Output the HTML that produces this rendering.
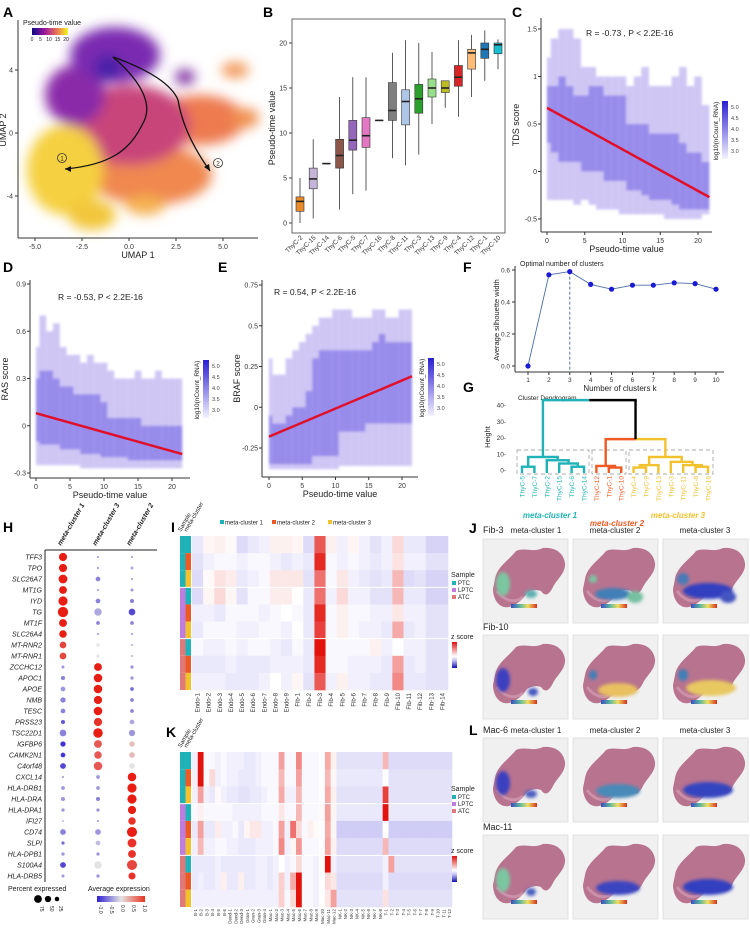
<!DOCTYPE html>
<html><head><meta charset="utf-8"><style>
html,body{margin:0;padding:0;background:#fff}
svg{display:block;font-family:"Liberation Sans",Arial,sans-serif}
</style></head><body>
<svg id="fig" width="750" height="929" viewBox="0 0 750 929" xmlns="http://www.w3.org/2000/svg">
<defs>
<filter id="blur6" x="-50%" y="-50%" width="200%" height="200%"><feGaussianBlur stdDeviation="6"/></filter>
<filter id="blur2" x="-50%" y="-50%" width="200%" height="200%"><feGaussianBlur stdDeviation="1.5"/></filter>
<filter id="blur1" x="-10%" y="-10%" width="120%" height="120%"><feGaussianBlur stdDeviation="1.2"/></filter>
<linearGradient id="plasma" x1="0" x2="1"><stop offset="0" stop-color="#0d0887"/><stop offset="0.35" stop-color="#9c179e"/><stop offset="0.7" stop-color="#ed7953"/><stop offset="1" stop-color="#f0f921"/></linearGradient>
<linearGradient id="bluebar" x1="0" x2="0" y1="1" y2="0"><stop offset="0" stop-color="#f4f2ff"/><stop offset="1" stop-color="#2a1fd0"/></linearGradient>
<linearGradient id="zbar" x1="0" x2="0" y1="1" y2="0"><stop offset="0" stop-color="#1010b0"/><stop offset="0.3" stop-color="#c8c4f4"/><stop offset="0.45" stop-color="#ffffff"/><stop offset="1" stop-color="#e01010"/></linearGradient>
<linearGradient id="avgbar" x1="0" x2="1"><stop offset="0" stop-color="#3020d0"/><stop offset="0.5" stop-color="#e4e4e4"/><stop offset="1" stop-color="#e8321e"/></linearGradient>
<linearGradient id="jet" x1="0" x2="1"><stop offset="0" stop-color="#3a4cc0"/><stop offset="0.35" stop-color="#5fb8a0"/><stop offset="0.65" stop-color="#f0e060"/><stop offset="1" stop-color="#d83020"/></linearGradient>
</defs>
</svg>
<script>
// ---------- DATA ----------
const boxCats=["ThyC-2","ThyC-15","ThyC-14","ThyC-6","ThyC-5","ThyC-7","ThyC-16","ThyC-8","ThyC-11","ThyC-3","ThyC-13","ThyC-9","ThyC-4","ThyC-12","ThyC-1","ThyC-10"];
const boxMin=[0,0.5,6.6,1.5,3.2,3.6,11.4,7.2,6.4,7.6,11,12.8,11.8,14,15.8,17.1];
const boxQ1=[1.3,3.8,6.6,6.1,8.1,8.4,11.4,11.4,10.9,12.2,14,14.5,15.2,17.1,18.3,18.8];
const boxMed=[2.4,4.9,6.6,7.5,9.2,9.7,11.4,12.5,13.5,13.8,15,15,16.2,18.9,19.3,19.8];
const boxQ3=[2.9,6.1,6.6,9.3,11.4,11.7,11.4,15.6,14.8,15.4,16,15.8,17.5,19.3,20,20];
const boxMax=[5,9.3,6.6,14,16.2,16.2,11.4,18.9,20.3,20,19,15.8,20.3,20.9,21.4,20.4];
const boxColors=["#e8892a","#c5b3d8","#555555","#8c564b","#9467bd","#e377c2","#555555","#7f7f7f","#aec7e8","#2ca02c","#98df8a","#bcbd22","#d62728","#ffbb78","#1f77b4","#17becf"];

const cHi=[1.2,1.4,1.5,1.5,1.4,1.1,1.1,1.0,1.0,1.0,1.0,0.9,1.0,1.1,0.9,0.9,0.9,1.0,1.1,0.9,1.0,0.7];
const cLo=[-0.3,-0.3,-0.3,-0.3,-0.35,-0.3,-0.35,-0.4,-0.4,-0.4,-0.45,-0.45,-0.45,-0.45,-0.45,-0.45,-0.5,-0.5,-0.5,-0.5,-0.5,-0.45];
const cCoreHi=[0.9,0.9,1.0,0.9,0.8,0.8,0.9,0.9,0.8,0.8,0.8,0.5,0.5,0.5,0.4,0.4,0.4,0.4,0.3,0.2,0.2,0.1];
const cCoreLo=[0.3,0.2,0.1,0.1,0.1,0.0,0.0,0.0,-0.1,-0.1,-0.1,-0.2,-0.2,-0.25,-0.3,-0.3,-0.3,-0.35,-0.4,-0.4,-0.4,-0.4];
const cFit=[0.67,-0.27];

const dHi=[0.5,0.7,0.6,0.65,0.5,0.45,0.45,0.4,0.45,0.4,0.4,0.35,0.3,0.3,0.3,0.35,0.3,0.3,0.35,0.3,0.3,0.3];
const dLo=[-0.25,-0.25,-0.25,-0.25,-0.25,-0.25,-0.25,-0.27,-0.27,-0.27,-0.27,-0.27,-0.27,-0.27,-0.27,-0.27,-0.27,-0.27,-0.27,-0.27,-0.27,-0.27];
const dCoreHi=[0.3,0.35,0.35,0.3,0.25,0.25,0.2,0.2,0.2,0.2,0.15,0.05,0.05,0.05,0.05,0.05,0.0,0.0,0.0,0.0,0.0,0.0];
const dCoreLo=[-0.1,-0.12,-0.12,-0.12,-0.15,-0.15,-0.15,-0.18,-0.18,-0.18,-0.2,-0.2,-0.2,-0.2,-0.22,-0.22,-0.22,-0.22,-0.22,-0.22,-0.22,-0.22];
const dFit=[0.08,-0.18];

const eHi=[0.3,0.2,0.2,0.3,0.35,0.4,0.45,0.5,0.55,0.55,0.6,0.6,0.6,0.55,0.55,0.55,0.6,0.6,0.55,0.55,0.6,0.6];
const eLo=[-0.38,-0.38,-0.38,-0.38,-0.38,-0.38,-0.38,-0.38,-0.38,-0.38,-0.38,-0.36,-0.36,-0.36,-0.36,-0.36,-0.36,-0.36,-0.36,-0.36,-0.36,-0.36];
const eCoreHi=[-0.05,-0.1,-0.1,-0.05,0,0,0.1,0.3,0.35,0.35,0.35,0.35,0.35,0.35,0.35,0.35,0.4,0.45,0.4,0.4,0.4,0.4];
const eCoreLo=[-0.35,-0.35,-0.35,-0.35,-0.35,-0.35,-0.35,-0.3,-0.3,-0.3,-0.3,-0.15,-0.15,-0.15,-0.15,-0.1,-0.1,-0.1,-0.1,-0.1,-0.1,-0.1];
const eFit=[-0.18,0.19];

const silK=[1,2,3,4,5,6,7,8,9,10];
const silVal=[0,0.57,0.59,0.51,0.48,0.505,0.505,0.52,0.515,0.48];

const leafNames=["ThyC-5","ThyC-7","ThyC-2","ThyC-15","ThyC-6","ThyC-14","ThyC-12","ThyC-1","ThyC-10","ThyC-4","ThyC-9","ThyC-13","ThyC-3","ThyC-11","ThyC-8","ThyC-16"];
const leafColors=["#1fb3b8","#1fb3b8","#1fb3b8","#1fb3b8","#1fb3b8","#1fb3b8","#ee5a24","#ee5a24","#ee5a24","#f2c12e","#f2c12e","#f2c12e","#f2c12e","#f2c12e","#f2c12e","#f2c12e"];
const mergeLeft=[0,4,3,2,16,7,6,9,23,14,13,12,24,22,20];
const mergeRight=[1,5,17,18,19,8,21,10,11,15,25,26,27,28,29];
const mergeHeight=[2,2,4,6,8,1.5,2.5,1.5,3,2,3,5,8,19,43];
const mergeColor=["#1fb3b8","#1fb3b8","#1fb3b8","#1fb3b8","#1fb3b8","#ee5a24","#ee5a24","#f2c12e","#f2c12e","#f2c12e","#f2c12e","#f2c12e","#f2c12e","#000000","#000000"];

const genes=["TFF3","TPO","SLC26A7","MT1G","IYD","TG","MT1F","SLC26A4","MT-RNR2","MT-RNR1","ZCCHC12","APOC1","APOE","NMB","TESC","PRSS23","TSC22D1","IGFBP6","CAMK2N1","C4orf48","CXCL14","HLA-DRB1","HLA-DRA","HLA-DPA1","IFI27","CD74","SLPI","HLA-DPB1","S100A4","HLA-DRB5"];
const dotGroups=["meta-cluster 1","meta-cluster 3","meta-cluster 2"];
const pctMC1=[60,60,70,55,75,95,55,50,40,40,8,15,20,25,20,15,40,25,20,30,5,12,15,10,3,30,10,10,30,8];
const pctMC3=[5,5,20,5,20,50,12,5,10,10,55,65,65,60,65,60,80,55,50,65,12,12,15,10,5,30,20,10,50,10];
const pctMC2=[5,8,5,8,15,40,12,5,5,5,10,10,12,12,12,20,35,25,30,30,65,75,75,60,50,90,70,55,90,45];
const avgMC1=[1,1,1,1,1,1,1,1,0.8,0.8,-0.4,-0.5,-0.4,-0.5,-0.5,-0.7,-0.5,-0.9,-0.9,-0.8,-0.3,-0.4,-0.4,-0.4,-0.3,-0.5,-0.6,-0.4,-0.8,-0.4];
const avgMC3=[-0.3,-0.3,-0.5,-0.3,-0.5,-0.3,-0.5,-0.3,0,0,1,1,1,1,1,0.9,1,0.7,0.7,0.7,-0.4,-0.4,-0.5,-0.4,-0.3,-0.4,-0.2,-0.4,0,-0.4];
const avgMC2=[-0.3,-0.3,-0.3,-0.4,-0.5,-0.8,-0.5,-0.3,-0.2,-0.2,-0.4,-0.4,-0.6,-0.5,-0.5,-0.3,-0.4,0.2,0.2,0,1,1,1,1,0.9,1,0.9,0.9,0.8,0.9];

const iCols=["Endo-1","Endo-2","Endo-3","Endo-4","Endo-5","Endo-6","Endo-7","Endo-8","Endo-9","Fib-1","Fib-2","Fib-3","Fib-4","Fib-5","Fib-6","Fib-7","Fib-8","Fib-9","Fib-10","Fib-11","Fib-12","Fib-13","Fib-14"];
const iRow0=[-.3,.2,.3,.1,-.5,-.3,-.2,.3,.3,.2,-.5,3.5,.3,-.2,.2,-.2,-.4,-.2,.8,-.3,-.3,-.6,-.6];
const iRow1=[-.4,-.2,-.1,-.1,-.2,-.1,-.1,-.2,-.3,-.2,-.3,4.5,-.1,-.2,-.1,-.2,-.3,-.2,.6,-.2,-.2,-.4,-.4];
const iRow2=[-.5,.1,.6,.4,-.3,-.2,-.1,.5,.5,.5,-.4,3,-.1,.5,-.2,-.3,-.4,-.3,1.5,-.5,-.4,-.6,-.6];
const iRow3=[-.5,.2,.8,.2,-.4,-.1,-.1,.4,.4,0,-.3,3,-.2,.8,-.2,-.2,-.4,-.4,1.5,-.3,-.3,-.6,-.6];
const iRow4=[-.2,-.2,-.3,-.1,-.1,-.1,-.2,-.1,0,-.1,-.3,4.5,-.1,.3,-.1,-.1,-.2,-.2,.5,-.2,-.2,-.4,-.4];
const iRow5=[-.3,-.1,-.1,-.1,-.2,-.2,-.1,-.1,-.2,0,-.3,4,-.1,.3,-.1,-.2,-.2,-.3,1.8,-.3,-.2,-.4,-.4];
const iRow6=[-.1,-.2,-.2,-.1,-.2,-.1,-.1,-.2,-.3,-.1,-.3,5,-.1,-.1,-.1,-.1,.3,-.2,0,-.2,-.2,-.4,-.4];
const iRow7=[-.3,-.3,-.3,-.2,-.3,-.3,-.3,-.2,-.2,-.2,-.3,4.5,-.1,-.1,-.2,-.2,-.2,-.3,2,-.3,-.2,-.4,-.4];
const iRow8=[-.2,-.2,-.2,-.3,-.3,-.3,-.2,0,-.2,.2,-.4,3.5,-.2,.3,-.2,-.2,-.3,-.3,2.5,-.3,-.3,-.4,-.4];

const kCols=["B-1","B-2","B-3","B-4","B-5","B-6","Dend-1","Dend-2","Dend-3","Gran-1","Gran-2","Gran-3","Gran-4","Mac-1","Mac-2","Mac-3","Mac-4","Mac-5","Mac-6","Mac-7","Mac-8","Mac-9","Mac-10","Mac-11","Mac-12","NK-1","NK-2","NK-3","NK-4","NK-5","NK-6","NK-7","NK-8","T-1","T-2","T-3","T-4","T-5","T-6","T-7","T-8","T-9","T-10","T-11","T-12"];
const kRow0=[-.2,5,-.1,-.1,-.2,-.1,-.2,-.2,-.2,-.3,-.3,-.2,-.1,-.1,-.1,2,-.1,-.1,2.5,-.1,-.1,-.1,0,1.8,.3,-.4,-.4,-.4,-.4,-.4,-.4,-.4,-.4,1.5,-.5,-.5,-.5,-.5,-.5,-.5,-.5,-.5,-.5,-.5,-.5];
const kRow1=[-.2,5,-.1,.8,-.2,-.1,-.2,-.2,-.3,-.3,-.3,-.2,-.1,-.1,-.1,1.5,-.1,-.1,2,-.1,-.1,-.1,0,1.5,.2,-.3,-.3,-.3,-.3,-.3,-.3,-.3,-.3,0,-.4,-.4,-.4,-.4,-.4,-.4,-.4,-.4,-.4,-.4,-.4];
const kRow2=[-.2,2,-.2,-.3,.1,-.2,-.3,-.3,-.4,-.4,-.3,-.3,-.2,-.1,-.1,1.8,-.2,-.2,1.5,-.1,-.1,-.1,0,1.8,.3,-.4,-.4,-.4,-.4,-.4,-.4,-.4,-.4,4,-.4,-.4,-.4,-.4,-.4,-.4,-.4,-.4,-.4,-.4,-.4];
const kRow3=[-.1,.3,-.1,-.1,-.1,-.1,-.1,-.2,-.2,-.2,-.2,-.2,-.1,-.1,-.1,.5,-.1,-.1,1.5,-.1,-.1,-.1,.1,2,.2,-.3,-.3,-.3,-.3,-.3,-.3,-.3,-.3,6,-.3,-.3,-.3,-.3,-.3,-.3,-.3,-.3,-.3,-.3,-.3];
const kRow4=[-.3,2,-.3,-.3,.4,-.2,-.2,-.1,-.3,.2,.5,.5,-.2,-.2,-.1,2,-.2,3,.8,-.1,.3,.1,0,1.8,.2,-.7,-.7,-.7,-.7,-.7,-.7,-.7,-.7,0,-.7,-.7,-.7,-.7,-.7,-.7,-.7,-.7,-.7,-.7,-.7];
const kRow5=[-.2,1.5,-.2,-.2,-.1,-.1,-.2,-.2,-.3,-.3,-.3,-.2,-.2,-.2,-.1,2.5,-.2,.2,2.2,-.1,-.1,-.1,0,2,.3,-.5,-.5,-.5,-.5,-.5,-.5,-.5,-.5,1.5,-.5,-.5,-.5,-.5,-.5,-.5,-.5,-.5,-.5,-.5,-.5];
const kRow6=[-.3,-.3,-.3,-.3,-.2,-.3,-.3,-.3,-.3,-.3,-.3,-.2,-.2,-.3,-.2,0,-.2,-.1,.8,-.1,-.1,-.2,0,6,-.2,-.4,-.4,-.4,-.4,-.4,-.4,-.4,-.4,-.2,2,-.4,-.4,-.4,-.4,-.4,-.4,-.4,-.4,-.4,-.4];
const kRow7=[-.3,-.2,-.3,-.3,-.2,.3,-.3,-.3,.3,-.3,-.3,-.2,-.2,-.3,-.2,1,-.2,1.8,6,-.1,-.1,-.2,0,.8,.5,-.5,-.5,-.5,-.5,-.5,-.5,-.5,-.5,-.2,-.5,-.5,-.5,-.5,-.5,-.5,-.5,-.5,-.5,-.5,-.5];
const kRow8=[-.2,-.2,-.2,-.2,-.2,-.2,-.2,-.2,-.2,-.2,-.2,-.2,-.2,-.2,-.2,1,-.1,.8,5,-.1,-.1,-.2,0,.5,2,-.4,-.4,-.4,-.4,-.4,-.4,-.4,-.4,.6,-.4,-.4,-.4,-.4,-.4,-.4,-.4,-.4,-.4,-.4,-.4];

// ---------- HELPERS ----------
const NS="http://www.w3.org/2000/svg";
const svg=document.getElementById('fig');
function mk(tag,attrs,parent){const e=document.createElementNS(NS,tag);for(const k in attrs)e.setAttribute(k,attrs[k]);(parent||svg).appendChild(e);return e;}
function txt(x,y,s,size,opts,parent){const o=Object.assign({x:x,y:y,'font-size':size,fill:'#222'},opts||{});const t=mk('text',o,parent);t.textContent=s;return t;}
function grp(name){const g=mk('g',{});return g;}
function lin(s,d0,d1,r0,r1){return v=>r0+(v-d0)/(d1-d0)*(r1-r0);}
function label(ch,x,y){const t=txt(x,y,ch,14,{'font-weight':'bold',fill:'#000'});}
function zcol(z){
  if(z<0){const f=Math.min(1,-z/3);const r=Math.round(255-(255-48)*f),g=Math.round(255-(255-36)*f),b=Math.round(255-(255-210)*f);return `rgb(${r},${g},${b})`;}
  const f=Math.min(1,z/5);const r=Math.round(255-(255-226)*f),g=Math.round(255-(255-18)*f),b=Math.round(255-(255-12)*f);return `rgb(${r},${g},${b})`;}
function avgcol(v){
  if(v<0){const f=Math.min(1,-v);return `rgb(${Math.round(228-(228-48)*f)},${Math.round(228-(228-32)*f)},${Math.round(228-(228-208)*f)})`;}
  const f=Math.min(1,v);return `rgb(${Math.round(228+(232-228)*f)},${Math.round(228-(228-30)*f)},${Math.round(228-(228-20)*f)})`;}

// ---------- PANEL A ----------
(function(){
  const g=grp('umap-panel');label('A',3,17);
  const blobs=g.appendChild(document.createElementNS(NS,'g'));blobs.setAttribute('filter','url(#blur6)');
  const B=[[150,175,62,30,'#f08850'],[200,120,45,25,'#ee7a50'],[235,70,14,8,'#f3995a'],[245,118,14,10,'#f09050'],[130,125,60,40,'#c8457a'],[75,95,30,30,'#8a2aa8'],[115,55,45,28,'#7a2cb0'],[108,68,14,14,'#4a22a8'],[185,77,10,8,'#8030a0'],[65,170,38,45,'#f5d040'],[92,215,24,15,'#f2c63a'],[145,205,20,10,'#f5b050']];
  B.forEach(b=>mk('ellipse',{cx:b[0],cy:b[1],rx:b[2],ry:b[3],fill:b[4]},blobs));
  mk('line',{x1:18,y1:20,x2:18,y2:238,stroke:'#333','stroke-width':1},g);
  mk('line',{x1:18,y1:238,x2:258,y2:238,stroke:'#333','stroke-width':1},g);
  const xs=lin(0,-5,5,35,223),ys=lin(0,4,-4,70,196);
  [-5,-2.5,0,2.5,5].forEach(v=>{mk('line',{x1:xs(v),y1:238,x2:xs(v),y2:241,stroke:'#333'},g);txt(xs(v),249,v.toFixed(1),7,{'text-anchor':'middle',fill:'#333'},g);});
  [4,0,-4].forEach(v=>{mk('line',{x1:15,y1:ys(v),x2:18,y2:ys(v),stroke:'#333'},g);txt(13,ys(v)+2.5,String(v),7,{'text-anchor':'end',fill:'#333'},g);});
  const xl=txt(138,258,'UMAP 1',9,{'text-anchor':'middle'},g);
  const yl=txt(6,130,'UMAP 2',9,{'text-anchor':'middle',transform:'rotate(-90 6 130)'},g);
  mk('path',{d:'M113 57 C140 80,155 105,142 125 C130 150,110 165,65 169',fill:'none',stroke:'#111','stroke-width':1.3},g);
  mk('path',{d:'M65 169 l6 -3 l0 6 z',fill:'#111'},g);
  mk('path',{d:'M113 57 C150 70,172 85,178 100 C182 125,195 150,210 171',fill:'none',stroke:'#111','stroke-width':1.3},g);
  mk('path',{d:'M210 171 l-1 -7 l-5 3 z',fill:'#111'},g);
  mk('circle',{cx:62,cy:158,r:4.5,fill:'none',stroke:'#333','stroke-width':0.8},g);txt(62,160.5,'1',6,{'text-anchor':'middle'},g);
  mk('circle',{cx:218,cy:163,r:4.5,fill:'none',stroke:'#333','stroke-width':0.8},g);txt(218,165.5,'2',6,{'text-anchor':'middle'},g);
  txt(23,25,'Pseudo-time value',7,{},g);
  const cb=mk('rect',{x:32,y:28,width:36,height:7,fill:'url(#plasma)'},g);
  [0,5,10,15,20].forEach((v,i)=>txt(32+i*8.5,41,String(v),5,{'text-anchor':'middle'},g));
})();

// ---------- PANEL B ----------
(function(){
  const g=grp('boxplot-panel');label('B',263,17);
  mk('rect',{x:292,y:19,width:213,height:214,fill:'none',stroke:'#666','stroke-width':1},g);
  const ys=lin(0,0,20,223,43);const xs=i=>300+i*13.2;
  [0,5,10,15,20].forEach(v=>{mk('line',{x1:289,y1:ys(v),x2:292,y2:ys(v),stroke:'#444'},g);txt(287,ys(v)+2.5,String(v),7,{'text-anchor':'end',fill:'#333'},g);});
  const yl=txt(275,128,'Pseudo-time value',9,{'text-anchor':'middle',transform:'rotate(-90 275 128)'},g);
  boxCats.forEach((c,i)=>{
    const x=xs(i);
    mk('line',{x1:x,y1:ys(boxMin[i]),x2:x,y2:ys(boxMax[i]),stroke:'#333','stroke-width':0.8},g);
    const b=mk('rect',{x:x-4,y:ys(boxQ3[i]),width:8,height:Math.max(0.1,ys(boxQ1[i])-ys(boxQ3[i])),fill:boxColors[i],stroke:'#333','stroke-width':0.6},g);
    
    
    mk('line',{x1:x-4,y1:ys(boxMed[i]),x2:x+4,y2:ys(boxMed[i]),stroke:'#222','stroke-width':1.6},g);
    txt(x+3,238,c,6.5,{'text-anchor':'end',transform:`rotate(-45 ${x+3} 238)`,fill:'#333'},g);
  });
})();

// ---------- SCATTER PANELS ----------
function scatter(name,L,x0,bottom,right,top,xA,xB,yVals,yPx,hi,lo,cHi_,cLo_,fit,yTitle,rtext,rx,ry,cbx,cby){
  const g=grp(name);
  const xs=lin(0,0,20,xA,xB);const ys=lin(0,yVals[0],yVals[1],yPx[0],yPx[1]);
  const cloud=mk('g',{filter:'url(#blur1)'},g);
  hi.forEach((h,i)=>{
    const a=xs(Math.max(0,i-0.5)),b=xs(Math.min(21.5,i+0.5));
    const r=mk('rect',{x:a,y:ys(h),width:b-a,height:ys(lo[i])-ys(h),fill:'#cfc6f4'},cloud);
    
    
    mk('rect',{x:a,y:ys(cHi_[i]),width:b-a,height:ys(cLo_[i])-ys(cHi_[i]),fill:'#8a7de8','fill-opacity':0.8},cloud);
  });
  const fl=mk('line',{x1:xs(0),y1:ys(fit[0]),x2:xs(21.5),y2:ys(fit[1]),stroke:'#e0102a','stroke-width':2.5},g);
  
  mk('line',{x1:x0,y1:top,x2:x0,y2:bottom,stroke:'#333'},g);
  mk('line',{x1:x0,y1:bottom,x2:right,y2:bottom,stroke:'#333'},g);
  [0,5,10,15,20].forEach(v=>{mk('line',{x1:xs(v),y1:bottom,x2:xs(v),y2:bottom+3,stroke:'#333'},g);txt(xs(v),bottom+11,String(v),7,{'text-anchor':'middle',fill:'#333'},g);});
  yVals.slice(2).forEach(v=>{mk('line',{x1:x0-3,y1:ys(v),x2:x0,y2:ys(v),stroke:'#333'},g);txt(x0-4,ys(v)+2.5,String(v),7,{'text-anchor':'end',fill:'#333'},g);});
  const xt=txt((x0+right)/2,bottom+20,'Pseudo-time value',9,{'text-anchor':'middle'},g);
  const yc=(top+bottom)/2;const yt=txt(x0-22,yc,yTitle,9,{'text-anchor':'middle',transform:`rotate(-90 ${x0-22} ${yc})`},g);
  txt(rx,ry,rtext,8.5,{},g);
  mk('rect',{x:cbx,y:cby,width:6,height:58,fill:'url(#bluebar)'},g);
  ['5.0','4.5','4.0','3.5','3.0'].forEach((s,i)=>txt(cbx+9,cby+8+i*11,s,5.5,{fill:'#444'},g));
  txt(cbx-4,cby+30,'log10(nCount_RNA)',6.5,{'text-anchor':'middle',transform:`rotate(-90 ${cbx-4} ${cby+30})`},g);
}
label('C',512,17);
scatter('tds-scatter-panel','C',541,232,712,18,547,698,[1.5,-0.5,1.5,1.0,0.5,0.0,-0.5],[29,219],cHi,cLo,cCoreHi,cCoreLo,cFit,'TDS score','R = -0.73 , P < 2.2E-16',586,36,722,101);
label('D',3,272);
scatter('ras-scatter-panel','D',30,478,190,280,36,172,[0.9,-0.3,0.9,0.6,0.3,0.0,-0.3],[284,473],dHi,dLo,dCoreHi,dCoreLo,dFit,'RAS score','R = -0.53, P < 2.2E-16',58,300,203,360);
label('E',218,272);
scatter('braf-scatter-panel','E',262,477,418,280,269,402,[0.75,-0.25,0.75,0.5,0.25,0,-0.25],[285,448],eHi,eLo,eCoreHi,eCoreLo,eFit,'BRAF score','R = 0.54, P < 2.2E-16',274,295,428,358);

// ---------- PANEL F ----------
(function(){
  const g=grp('silhouette-panel');label('F',463,272);
  const xs=lin(0,1,10,528,716),ys=lin(0,0,0.6,366,270);
  txt(520,266,'Optimal number of clusters',7,{},g);
  mk('line',{x1:515,y1:266,x2:515,y2:372,stroke:'#333'},g);
  mk('line',{x1:515,y1:372,x2:724,y2:372,stroke:'#333'},g);
  [0,0.2,0.4,0.6].forEach(v=>{mk('line',{x1:512,y1:ys(v),x2:515,y2:ys(v),stroke:'#333'},g);txt(510,ys(v)+2.5,v.toFixed(1),6.5,{'text-anchor':'end',fill:'#333'},g);});
  silK.forEach(k=>{mk('line',{x1:xs(k),y1:372,x2:xs(k),y2:375,stroke:'#333'},g);txt(xs(k),382,String(k),6.5,{'text-anchor':'middle',fill:'#333'},g);});
  mk('line',{x1:xs(3),y1:ys(silVal[2]),x2:xs(3),y2:372,stroke:'#5577aa','stroke-dasharray':'3,2'},g);
  mk('polyline',{points:silK.map((k,i)=>xs(k)+','+ys(silVal[i])).join(' '),fill:'none',stroke:'#4a6fa5','stroke-width':0.9},g);
  silK.forEach((k,i)=>{const c=mk('circle',{cx:xs(k),cy:ys(silVal[i]),r:2.6,fill:'#1a1ad6'},g);});
  txt(620,391,'Number of clusters k',8,{'text-anchor':'middle'},g);
  txt(499,320,'Average silhouette width',7.5,{'text-anchor':'middle',transform:'rotate(-90 499 320)'},g);
})();

// ---------- PANEL G ----------
(function(){
  const g=grp('dendrogram-panel');label('G',463,392);
  const lx=i=>522+i*12.4, ys=h=>470-h*1.625;
  txt(518,400,'Cluster Dendrogram',6.5,{},g);
  [0,10,20,30,40].forEach(v=>txt(506,ys(v)+2.5,v+'-',6.5,{'text-anchor':'end',fill:'#333'},g));
  txt(490,437,'Height',7.5,{'text-anchor':'middle',transform:'rotate(-90 490 437)'},g);
  [[517,589],[592,626],[629,713]].forEach(r=>mk('rect',{x:r[0],y:450,width:r[1]-r[0],height:24,fill:'none',stroke:'#aaa','stroke-dasharray':'4,3','stroke-width':0.9},g));
  const nx=[],nh=[],nc=[];
  leafNames.forEach((n,i)=>{nx[i]=lx(i);nh[i]=0;nc[i]=leafColors[i];});
  mergeLeft.forEach((l,j)=>{
    const r=mergeRight[j],id=16+j,h=mergeHeight[j];
    nx[id]=(nx[l]+nx[r])/2;nh[id]=h;nc[id]=mergeColor[j];
    [l,r].forEach(c=>mk('line',{x1:nx[c],y1:ys(nh[c])+(c<16?3:0),x2:nx[c],y2:ys(h),stroke:nc[c],'stroke-width':2.4},g));
    mk('line',{x1:nx[l]-1.2,y1:ys(h),x2:nx[id],y2:ys(h),stroke:nc[l],'stroke-width':2.4},g);
    mk('line',{x1:nx[id],y1:ys(h),x2:nx[r]+1.2,y2:ys(h),stroke:nc[r],'stroke-width':2.4},g);
  });
  leafNames.forEach((n,i)=>{const t=txt(lx(i)+2.5,476,n,6.5,{'text-anchor':'end',fill:leafColors[i],transform:`rotate(-90 ${lx(i)+2.5} 476)`},g);});
  txt(550,518,'meta-cluster 1',8,{'text-anchor':'middle',fill:'#1fb3b8','font-weight':'bold','font-style':'italic'},g);
  txt(617,526,'meta-cluster 2',8,{'text-anchor':'middle',fill:'#ee5a24','font-weight':'bold','font-style':'italic'},g);
  txt(678,518,'meta-cluster 3',8,{'text-anchor':'middle',fill:'#f2c12e','font-weight':'bold','font-style':'italic'},g);
})();

// ---------- PANEL H ----------
(function(){
  const g=grp('dotplot-panel');label('H',3,532);
  const colX=[63,98,132];const ry=i=>557+i*11;
  mk('line',{x1:45,y1:550,x2:157,y2:550,stroke:'#222'},g);
  mk('line',{x1:45,y1:550,x2:45,y2:882,stroke:'#222'},g);
  dotGroups.forEach((d,j)=>txt(colX[j]-2,546,d,7,{'font-weight':'bold','font-style':'italic',transform:`rotate(-60 ${colX[j]-2} 546)`},g));
  const pcts=[pctMC1,pctMC3,pctMC2],avgs=[avgMC1,avgMC3,avgMC2];
  genes.forEach((gn,i)=>{
    txt(42,ry(i)+2.5,gn,7,{'text-anchor':'end','font-style':'italic',fill:'#222'},g);
    for(let j=0;j<3;j++){
      const c=mk('circle',{cx:colX[j],cy:ry(i),r:Math.max(0.8,Math.sqrt(pcts[j][i]/100)*5.3),fill:avgcol(avgs[j][i])},g);
      
      
    }
  });
  txt(8,891,'Percent expressed',7,{},g);
  [[38,75],[48,50],[57,25]].forEach(p=>{mk('circle',{cx:p[0],cy:899,r:Math.sqrt(p[1]/100)*4.5,fill:'#000'},g);txt(p[0]+2,906,String(p[1]),5,{transform:`rotate(90 ${p[0]+2} 906)`},g);});
  txt(88,891,'Average expression',7,{},g);
  mk('rect',{x:97,y:896,width:48,height:6,fill:'url(#avgbar)'},g);
  ['-1.0','-0.5','0.0','0.5','1.0'].forEach((s,i)=>txt(99+i*11,905,s,5,{transform:`rotate(90 ${99+i*11} 905)`},g));
})();

// ---------- HEATMAPS ----------
function heat(name,rows,cols,x0,x1,y0,y1,labelY){
  const g=grp(name);
  const cw=(x1-x0)/cols.length,rh=(y1-y0)/rows.length;
  const samp=['#1fb3b8','#c07de0','#e07a7a'],mc=['#1fb3b8','#ee5a24','#f2c12e'];
  rows.forEach((row,r)=>{
    mk('rect',{x:x0-12,y:y0+r*rh,width:5.5,height:rh,fill:samp[Math.floor(r/3)]},g);
    mk('rect',{x:x0-6.5,y:y0+r*rh,width:5.5,height:rh,fill:mc[r%3]},g);
    row.forEach((v,c)=>{
      const cell=mk('rect',{x:x0+c*cw,y:y0+r*rh,width:cw+0.3,height:rh+0.3,fill:zcol(v)},g);
      
      
    });
  });
  [3,6].forEach(r=>mk('line',{x1:x0-12,y1:y0+r*rh,x2:x1,y2:y0+r*rh,stroke:'#fff','stroke-width':1},g));
  cols.forEach((c,i)=>{const x=x0+(i+0.5)*cw+2;txt(x,labelY,c,cols.length>30?4.5:6,{'text-anchor':'end',transform:`rotate(-90 ${x} ${labelY})`,fill:'#333'},g);});
  txt(x0-11,y0-4,'Sample',6,{transform:`rotate(-60 ${x0-11} ${y0-4})`},g);
  txt(x0-5,y0-4,'meta-cluster',6,{transform:`rotate(-60 ${x0-5} ${y0-4})`},g);
  return g;
}
function sideLegend(y,g){
  txt(451,y,'Sample',7,{},g);
  [['#1fb3b8','PTC'],['#c07de0','LPTC'],['#e07a7a','ATC']].forEach((s,i)=>{mk('rect',{x:452,y:y+4+i*7,width:4,height:4,fill:s[0]},g);txt(458,y+8+i*7,s[1],6,{},g);});
  txt(451,y+62,'z score',7,{},g);
  mk('rect',{x:452,y:y+65,width:5,height:26,fill:'url(#zbar)'},g);
}
label('I',171,532);
const gi=heat('heatmap-i',[iRow0,iRow1,iRow2,iRow3,iRow4,iRow5,iRow6,iRow7,iRow8],iCols,192,448,536,690,693);
sideLegend(577,gi);
[['#1fb3b8','meta-cluster 1',220],['#ee5a24','meta-cluster 2',272],['#f2c12e','meta-cluster 3',328]].forEach(s=>{mk('rect',{x:s[2],y:520,width:4,height:4,fill:s[0]},gi);txt(s[2]+5,524.5,s[1],6,{},gi);});
label('K',166,737);
const gk=heat('heatmap-k',[kRow0,kRow1,kRow2,kRow3,kRow4,kRow5,kRow6,kRow7,kRow8],kCols,192,452,752,907,909);
sideLegend(791,gk);

// ---------- SPATIAL PANELS J / L ----------
(function(){
  label('J',469,533);label('L',469,735);
  const colsX=[483,573,663],rowsY=[539,635,738,835];
  const spots=[
    [[[20,45,7,12,'#7cc6a0'],[48,55,6,4,'#5fb0b0']],[[40,55,18,6,'#3f7fb8'],[62,58,8,6,'#74c0a0'],[20,40,4,4,'#7cc6a0']],[[45,52,25,8,'#3040c0'],[20,40,6,6,'#4a7ab8'],[65,58,8,6,'#4455c0']]],
    [[[20,45,7,12,'#3a3fc0'],[50,57,5,4,'#4455c0']],[[45,55,20,7,'#e8c060'],[20,40,4,5,'#3f7fb8']],[[48,53,25,8,'#e8c860'],[20,40,5,6,'#3f7fb8']]],
    [[[20,45,7,12,'#3a3fc0'],[48,56,6,4,'#5060c0']],[[45,53,22,7,'#4a8ab8']],[[45,52,25,8,'#3545c0']]],
    [[[20,45,7,12,'#7cc6a0'],[48,57,5,4,'#4a60c0']],[[45,53,22,7,'#3a45c0']],[[45,52,25,8,'#3040c0']]]
  ];
  const tissue='M12 40 C14 28,25 22,33 12 C42 8,50 14,60 9 C70 8,80 12,82 24 C83 34,74 40,70 48 C66 56,62 58,58 52 C52 50,48 52,44 54 C40 60,34 66,26 68 C16 70,10 60,10 50 Z';
  rowsY.forEach((y,r)=>{colsX.forEach((x,c)=>{
    const g=grp('spatial-tile');
    mk('rect',{x:x,y:y,width:85,height:84,fill:'#f0f0f0',stroke:'#e0e0e0'},g);
    mk('path',{d:tissue,transform:`translate(${x} ${y})`,fill:'#b8738f'},g);
    mk('path',{d:'M14 52 C20 60,30 66,40 58',transform:`translate(${x} ${y})`,fill:'none',stroke:'#d9a5bb','stroke-width':3,opacity:0.6},g);
    const sg=mk('g',{transform:`translate(${x} ${y})`,filter:'url(#blur2)'},g);
    spots[r][c].forEach(s=>mk('ellipse',{cx:s[0],cy:s[1],rx:s[2],ry:s[3],fill:s[4]},sg));
    mk('rect',{x:x+28,y:y+65,width:26,height:4,fill:'url(#jet)'},g);
  });});
  const T=[[533,'Fib-3',true],[630,'Fib-10',false],[733,'Mac-6',true],[830,'Mac-11',false]];
  T.forEach(t=>{
    txt(483,t[0],t[1],9,{},svg);
    if(t[2]){txt(536,t[0],'meta-cluster 1',8,{'text-anchor':'middle'});txt(615,t[0],'meta-cluster 2',8,{'text-anchor':'middle'});txt(705,t[0],'meta-cluster 3',8,{'text-anchor':'middle'});}
  });
})();
</script>
</body></html>
